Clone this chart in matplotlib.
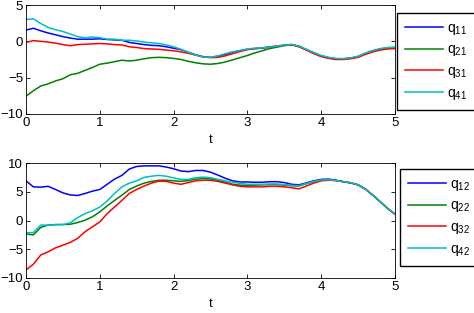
import numpy as np
import matplotlib
matplotlib.use('Agg')
import matplotlib.pyplot as plt

plt.rcParams['font.family'] = ['Liberation Sans', 'DejaVu Sans']
plt.rcParams['mathtext.fontset'] = 'custom'
plt.rcParams['mathtext.rm'] = 'Liberation Sans'

t = np.round(np.arange(0, 5.01, 0.1), 1)

# top panel: q_i1
q11 = [1.55, 1.8, 1.45, 1.15, 0.9, 0.65, 0.45, 0.3, 0.3, 0.3,
       0.35, 0.25, 0.2, 0.15, -0.15, -0.3, -0.45, -0.55, -0.6, -0.75,
       -0.95, -1.15, -1.5, -1.85, -2.15, -2.2, -2.05, -1.8, -1.5, -1.3,
       -1.1, -1.0, -0.95, -0.8, -0.7, -0.55, -0.45, -0.7, -1.15, -1.6,
       -2.0, -2.25, -2.4, -2.4, -2.3, -2.1, -1.65, -1.3, -1.05, -0.9, -0.85]
q21 = [-7.55, -6.8, -6.15, -5.85, -5.45, -5.15, -4.6, -4.4, -4.0, -3.6,
       -3.15, -3.0, -2.8, -2.6, -2.7, -2.6, -2.4, -2.25, -2.2, -2.25,
       -2.35, -2.5, -2.75, -2.95, -3.1, -3.15, -3.05, -2.85, -2.55, -2.25,
       -1.95, -1.6, -1.3, -1.0, -0.8, -0.6, -0.47, -0.72, -1.17, -1.62,
       -2.02, -2.27, -2.42, -2.42, -2.32, -2.12, -1.68, -1.33, -1.08, -0.93, -0.9]
q31 = [-0.15, 0.1, 0.0, -0.1, -0.25, -0.45, -0.6, -0.45, -0.4, -0.35,
       -0.3, -0.35, -0.45, -0.5, -0.75, -0.85, -1.0, -1.05, -1.1, -1.2,
       -1.3, -1.45, -1.65, -1.9, -2.1, -2.25, -2.2, -2.0, -1.7, -1.4,
       -1.15, -1.0, -0.9, -0.75, -0.65, -0.5, -0.45, -0.75, -1.2, -1.7,
       -2.1, -2.35, -2.5, -2.5, -2.4, -2.2, -1.8, -1.45, -1.2, -1.05, -1.0]
q41 = [3.0, 3.1, 2.45, 1.9, 1.6, 1.35, 1.0, 0.65, 0.5, 0.6,
       0.5, 0.3, 0.3, 0.15, 0.15, 0.05, -0.1, -0.2, -0.3, -0.5,
       -0.75, -1.1, -1.5, -1.9, -2.15, -2.2, -2.0, -1.7, -1.45, -1.25,
       -1.05, -0.95, -0.9, -0.78, -0.68, -0.52, -0.42, -0.65, -1.1, -1.55,
       -1.95, -2.2, -2.35, -2.38, -2.28, -2.05, -1.62, -1.27, -1.0, -0.85, -0.8]

# bottom panel: q_i2
q12 = [6.9, 5.85, 5.8, 5.95, 5.4, 4.8, 4.45, 4.35, 4.7, 5.1,
       5.4, 6.3, 7.2, 7.85, 8.95, 9.4, 9.5, 9.5, 9.5, 9.3,
       9.0, 8.6, 8.5, 8.7, 8.7, 8.4, 7.9, 7.35, 6.9, 6.7,
       6.7, 6.65, 6.65, 6.75, 6.75, 6.6, 6.3, 6.2, 6.55, 6.9,
       7.15, 7.2, 7.0, 6.75, 6.55, 6.2, 5.45, 4.4, 3.25, 2.1, 1.1]
q22 = [-2.35, -2.5, -1.2, -0.8, -0.7, -0.7, -0.65, -0.35, 0.05, 0.65,
       1.5, 2.55, 3.5, 4.4, 5.4, 6.0, 6.5, 6.8, 7.0, 7.0,
       6.9, 6.8, 6.95, 7.2, 7.3, 7.25, 7.0, 6.65, 6.3, 6.15,
       6.1, 6.15, 6.2, 6.25, 6.25, 6.15, 6.05, 6.0, 6.4, 6.75,
       7.0, 7.1, 6.95, 6.75, 6.55, 6.2, 5.45, 4.4, 3.25, 2.1, 1.1]
q32 = [-8.6, -7.6, -6.0, -5.45, -4.75, -4.3, -3.8, -3.1, -1.95, -1.1,
       -0.25, 1.2, 2.35, 3.5, 4.7, 5.4, 6.0, 6.5, 6.85, 6.8,
       6.5, 6.3, 6.6, 6.9, 7.0, 7.0, 6.8, 6.5, 6.2, 5.95,
       5.85, 5.85, 5.85, 5.95, 5.95, 5.85, 5.7, 5.5, 6.0, 6.5,
       6.9, 7.0, 6.95, 6.75, 6.55, 6.2, 5.45, 4.4, 3.25, 2.1, 1.1]
q42 = [-2.15, -2.1, -0.8, -0.8, -0.75, -0.7, -0.4, 0.5, 1.2, 1.7,
       2.35, 3.4, 4.7, 5.85, 6.5, 6.9, 7.5, 7.7, 7.85, 7.7,
       7.4, 7.15, 7.15, 7.45, 7.55, 7.45, 7.15, 6.9, 6.65, 6.45,
       6.3, 6.3, 6.3, 6.35, 6.35, 6.25, 6.1, 6.05, 6.45, 6.8,
       7.05, 7.1, 6.95, 6.75, 6.55, 6.2, 5.45, 4.4, 3.25, 2.1, 1.1]

colors = ['#0000ff', '#008000', '#ff0000', '#00bfbf']
top_labels = ['q$_{\\mathregular{11}}$', 'q$_{\\mathregular{21}}$',
              'q$_{\\mathregular{31}}$', 'q$_{\\mathregular{41}}$']
bot_labels = ['q$_{\\mathregular{12}}$', 'q$_{\\mathregular{22}}$',
              'q$_{\\mathregular{32}}$', 'q$_{\\mathregular{42}}$']

W, H = 474, 313
fig = plt.figure(figsize=(W / 100, H / 100), dpi=100)


def px_axes(x0, y0, x1, y1):
    return fig.add_axes([x0 / W, 1 - y1 / H, (x1 - x0) / W, (y1 - y0) / H])


def style(ax, ylim, yticks):
    ax.set_xlim(0, 5)
    ax.set_ylim(*ylim)
    ax.set_xticks([0, 1, 2, 3, 4, 5])
    ax.set_yticks(yticks)
    ax.tick_params(direction='in', top=True, right=True, labelsize=9.5,
                   length=3, width=0.6, pad=2)
    for s in ax.spines.values():
        s.set_linewidth(0.6)
    ax.set_xlabel('t', fontsize=9.5, labelpad=4)


def add_legend(ax, x0, y0):
    ax.legend(loc='upper left', bbox_to_anchor=(x0 / W, 1 - y0 / H),
              bbox_transform=fig.transFigure, borderaxespad=0, fancybox=False,
              edgecolor='black', framealpha=1, fontsize=10, handlelength=2.75,
              labelspacing=0.42, borderpad=0.55, handletextpad=0.3)


ax1 = px_axes(26, 5, 395, 114)
for y, c, lab in zip([q11, q21, q31, q41], colors, top_labels):
    ax1.plot(t, y, color=c, lw=1.1, label=lab)
style(ax1, (-10, 5), [-10, -5, 0, 5])
add_legend(ax1, 397, 13)

ax2 = px_axes(26, 163, 395, 278)
for y, c, lab in zip([q12, q22, q32, q42], colors, bot_labels):
    ax2.plot(t, y, color=c, lw=1.1, label=lab)
style(ax2, (-10, 10), [-10, -5, 0, 5, 10])
add_legend(ax2, 400, 169)

fig.savefig('out.png', dpi=100)
